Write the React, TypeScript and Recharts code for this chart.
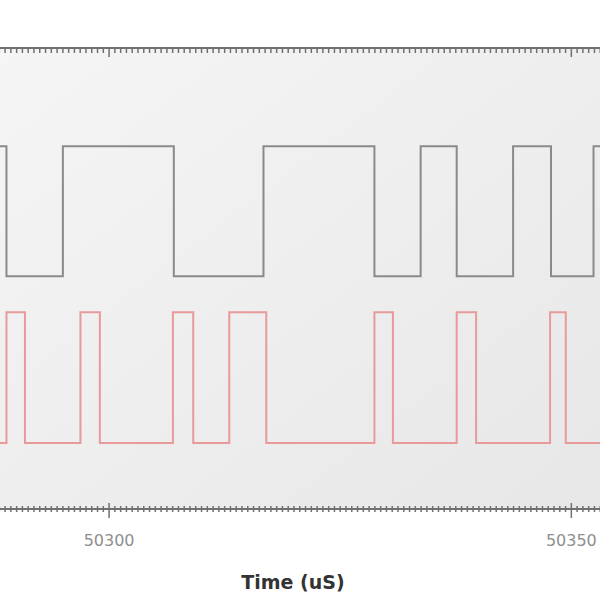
import { LineChart, Line, XAxis, YAxis, CartesianGrid } from 'recharts';

// time window visible in the picture (uS)
const timeStart = 50288.2;
const timeEnd = 50353.1;

// labelled ticks on the time axis
const tickLabels = [50300, 50350];
const minorStep = 0.625;

// clock-like trace (grey): starts high, toggles at each edge
const greyEdges = [50288.9, 50295.0, 50307.0, 50316.7, 50328.7, 50333.7, 50337.6, 50343.7, 50347.8, 50352.4];
const greyLevels = [78.7, 50.5];
const greyStartsHigh = true;

// data trace (red): starts low, toggles at each edge
const redEdges = [
  50288.9, 50290.9, 50296.9, 50299.0, 50306.9, 50309.1, 50313.0, 50317.0,
  50328.7, 50330.7, 50337.6, 50339.7, 50347.7, 50349.4,
];
const redLevels = [42.7, 14.3];
const redStartsHigh = false;

function buildSteps(edges: number[], levels: number[], startHigh: boolean) {
  let high = startHigh;
  const pts = [{ t: timeStart - 3, v: high ? levels[0] : levels[1] }];
  edges.forEach(t => {
    high = !high;
    pts.push({ t, v: high ? levels[0] : levels[1] });
  });
  pts.push({ t: timeEnd + 3, v: high ? levels[0] : levels[1] });
  return pts;
}

const greyData = buildSteps(greyEdges, greyLevels, greyStartsHigh);
const redData = buildSteps(redEdges, redLevels, redStartsHigh);

const axisTicks: number[] = [];
for (let k = -20; k <= 90; k++) {
  const t = tickLabels[0] + k * minorStep;
  if (t > timeStart - 1 && t < timeEnd + 1) axisTicks.push(t);
}

const isMajor = (v: number) => tickLabels.some(l => Math.abs(l - v) < 1e-6);

const BottomTick = (props: any) => {
  const { x, y, payload } = props;
  const major = isMajor(payload.value);
  return (
    <g>
      <line x1={x} x2={x} y1={major ? y - 6 : y - 3} y2={major ? y + 9 : y + 3} stroke="#707070" strokeWidth={1.5} />
      {major && (
        <text x={x} y={y + 37} textAnchor="middle" fill="#8e8e8e" fontSize={16} fontFamily="DejaVu Sans, sans-serif">
          {payload.value}
        </text>
      )}
    </g>
  );
};

const TopTick = (props: any) => {
  const { x, y, payload } = props;
  const major = isMajor(payload.value);
  return <line x1={x} x2={x} y1={y - 1} y2={major ? y + 9 : y + 5} stroke="#707070" strokeWidth={1.5} />;
};

export default function App() {
  return (
    <div style={{ position: 'absolute', left: 0, top: 0, width: 600, height: 600, background: '#fff', overflow: 'hidden' }}>
      <LineChart width={600} height={600} margin={{ top: 0, right: 0, bottom: 0, left: 0 }}>
        <defs>
          <linearGradient id="bg" x1="0" y1="0" x2="1" y2="1">
            <stop offset="0%" stopColor="#f5f5f5" />
            <stop offset="100%" stopColor="#e7e7e7" />
          </linearGradient>
        </defs>
        <CartesianGrid horizontal={false} vertical={false} fill="url(#bg)" />
        <XAxis
          xAxisId="bottom"
          dataKey="t"
          type="number"
          domain={[timeStart, timeEnd]}
          allowDataOverflow
          ticks={axisTicks}
          interval={0}
          height={91}
          tickSize={0}
          tickMargin={0}
          tickLine={false}
          axisLine={{ stroke: '#707070', strokeWidth: 2 }}
          tick={<BottomTick />}
          label={{ value: 'Time (uS)', position: 'insideBottom', offset: 11, dx: -7, fill: '#333', fontSize: 19, fontWeight: 'bold', fontFamily: 'DejaVu Sans, sans-serif' }}
        />
        <XAxis
          xAxisId="top"
          orientation="top"
          dataKey="t"
          type="number"
          domain={[timeStart, timeEnd]}
          allowDataOverflow
          ticks={axisTicks}
          interval={0}
          height={48}
          tickSize={0}
          tickMargin={0}
          tickLine={false}
          axisLine={{ stroke: '#707070', strokeWidth: 2 }}
          tick={<TopTick />}
        />
        <YAxis hide domain={[0, 100]} type="number" width={0} />
        <Line
          xAxisId="bottom"
          data={greyData}
          dataKey="v"
          type="stepAfter"
          stroke="#8a8a8a"
          strokeWidth={2}
          dot={false}
          isAnimationActive={false}
        />
        <Line
          xAxisId="bottom"
          data={redData}
          dataKey="v"
          type="stepAfter"
          stroke="#e89a9a"
          strokeWidth={2}
          dot={false}
          isAnimationActive={false}
        />
      </LineChart>
    </div>
  );
}
